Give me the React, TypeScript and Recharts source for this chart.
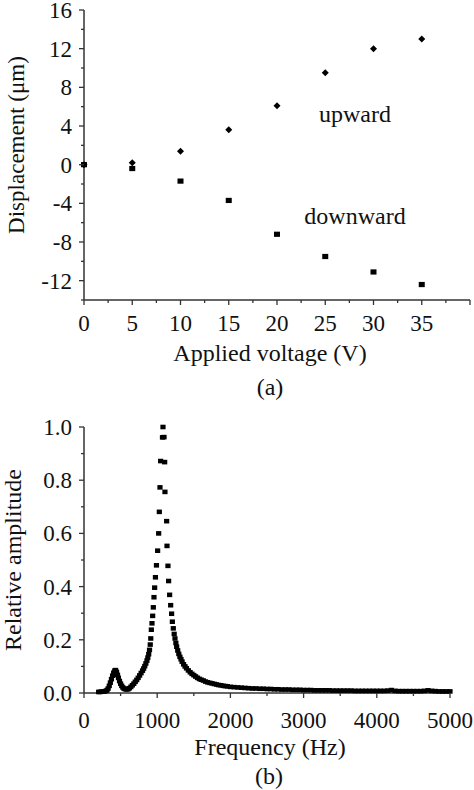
import React from "react";
import { ScatterChart, Scatter, XAxis, YAxis } from "recharts";

const FONT = '"Liberation Serif", "Times New Roman", serif';
const AXIS = "#333";

// (a) displacement vs applied voltage
const voltage = [0, 5, 10, 15, 20, 25, 30, 35];
const upward = [0, 0.2, 1.4, 3.6, 6.1, 9.5, 12, 13];
const downward = [0, -0.4, -1.7, -3.7, -7.2, -9.5, -11.1, -12.4];
const voltageTicks = [0, 2.5, 5, 7.5, 10, 12.5, 15, 17.5, 20, 22.5, 25, 27.5, 30, 32.5, 35, 37.5, 40];
const voltageLabels = [0, 5, 10, 15, 20, 25, 30, 35];
const dispTicks = [-14, -12, -10, -8, -6, -4, -2, 0, 2, 4, 6, 8, 10, 12, 14, 16];
const dispLabels = [-12, -8, -4, 0, 4, 8, 12, 16];

// (b) relative amplitude vs frequency
const frequency = [
  200, 220, 240, 260, 280, 300, 315, 330, 345, 360, 375, 390, 405, 420, 432, 445, 458, 470, 485, 500,
  515, 530, 545, 560, 575, 590, 605, 620, 640, 660, 680, 700, 720, 740, 760, 780, 800, 815, 830, 845,
  860, 872, 884, 895, 905, 912, 920, 929, 938, 947, 956, 965, 976, 990, 1006, 1020, 1029, 1038, 1047, 1072,
  1079, 1093, 1102, 1106, 1129, 1134, 1147, 1156, 1170, 1184, 1197, 1207, 1220, 1232, 1243, 1255, 1266, 1280, 1295, 1310,
  1325, 1340, 1360, 1380, 1400, 1425, 1450, 1475, 1500, 1525, 1550, 1575, 1600, 1630, 1660, 1690, 1720, 1750, 1780, 1810,
  1840, 1870, 1900, 1930, 1960, 2000, 2050, 2100, 2150, 2200, 2250, 2300, 2350, 2400, 2450, 2500, 2550, 2600, 2650, 2700,
  2750, 2800, 2850, 2900, 2950, 3000, 3050, 3100, 3150, 3200, 3250, 3300, 3350, 3400, 3450, 3500, 3550, 3600, 3650, 3700,
  3750, 3800, 3850, 3900, 3950, 4000, 4050, 4100, 4150, 4200, 4250, 4300, 4350, 4400, 4450, 4500, 4550, 4600, 4650, 4700,
  4750, 4800, 4850, 4900, 4950, 5000,
];
const amplitude = [
  0.004, 0.004, 0.005, 0.005, 0.006, 0.008, 0.011, 0.017, 0.027, 0.039, 0.052, 0.065, 0.076, 0.084, 0.086, 0.079, 0.068, 0.057, 0.045, 0.035,
  0.027, 0.021, 0.017, 0.015, 0.014, 0.014, 0.015, 0.018, 0.023, 0.029, 0.035, 0.042, 0.049, 0.057, 0.066, 0.075, 0.084, 0.092, 0.101, 0.111,
  0.122, 0.133, 0.146, 0.162, 0.182, 0.205, 0.238, 0.262, 0.29, 0.322, 0.36, 0.396, 0.435, 0.48, 0.535, 0.6, 0.681, 0.773, 0.872, 0.961,
  1.0, 0.962, 0.868, 0.756, 0.646, 0.553, 0.478, 0.421, 0.369, 0.33, 0.298, 0.268, 0.243, 0.222, 0.205, 0.188, 0.174, 0.16, 0.147, 0.136,
  0.127, 0.118, 0.108, 0.1, 0.093, 0.085, 0.078, 0.072, 0.067, 0.062, 0.057, 0.053, 0.05, 0.047, 0.043, 0.04, 0.038, 0.036, 0.034, 0.032,
  0.03, 0.029, 0.027, 0.026, 0.025, 0.023, 0.022, 0.021, 0.02, 0.019, 0.018, 0.017, 0.017, 0.016, 0.016, 0.015, 0.015, 0.014, 0.014, 0.013,
  0.013, 0.013, 0.012, 0.012, 0.012, 0.011, 0.011, 0.011, 0.01, 0.01, 0.01, 0.01, 0.01, 0.009, 0.009, 0.009, 0.009, 0.009, 0.009, 0.008,
  0.008, 0.008, 0.008, 0.008, 0.008, 0.008, 0.008, 0.008, 0.009, 0.011, 0.008, 0.007, 0.007, 0.007, 0.007, 0.007, 0.007, 0.007, 0.008, 0.01,
  0.008, 0.007, 0.006, 0.006, 0.006, 0.006,
];
const freqTicks = [0, 500, 1000, 1500, 2000, 2500, 3000, 3500, 4000, 4500, 5000];
const freqLabels = [0, 1000, 2000, 3000, 4000, 5000];
const ampTicks = [0, 0.1, 0.2, 0.3, 0.4, 0.5, 0.6, 0.7, 0.8, 0.9, 1.0];
const ampLabels = [0, 0.2, 0.4, 0.6, 0.8, 1.0];

const upData = voltage.map((v, i) => ({ x: v, y: upward[i] }));
const downData = voltage.map((v, i) => ({ x: v, y: downward[i] }));
const ampData = frequency.map((f, i) => ({ x: f, y: amplitude[i] }));

const near = (list: number[], v: number) => list.some((t) => Math.abs(t - v) < 1e-6);

function bottomTick(majors: number[], labels: number[], dy: number, fmt: (v: number) => string) {
  return (props: any) => {
    const { x, y, payload } = props;
    const v = payload.value;
    const major = near(majors, v);
    return (
      <g>
        <line x1={x} y1={y} x2={x} y2={y + (major ? 5 : 3)} stroke={AXIS} strokeWidth={1.3} />
        {near(labels, v) && (
          <text x={x} y={y + dy} textAnchor="middle" fontFamily={FONT} fontSize={23} fill="#111">
            {fmt(v)}
          </text>
        )}
      </g>
    );
  };
}

function leftTick(labels: number[], fmt: (v: number) => string) {
  return (props: any) => {
    const { x, y, payload } = props;
    const v = payload.value;
    const major = near(labels, v);
    return (
      <g>
        <line x1={x - (major ? 5 : 3)} y1={y} x2={x} y2={y} stroke={AXIS} strokeWidth={1.3} />
        {major && (
          <text x={x - 12} y={y + 8} textAnchor="end" fontFamily={FONT} fontSize={23} fill="#111">
            {fmt(v)}
          </text>
        )}
      </g>
    );
  };
}

const Diamond = (props: any) => {
  const { cx, cy } = props;
  return <polygon points={`${cx},${cy - 3.5} ${cx + 3.5},${cy} ${cx},${cy + 3.5} ${cx - 3.5},${cy}`} fill="#000" />;
};
const Square = (props: any) => {
  const { cx, cy } = props;
  return <rect x={cx - 3} y={cy - 2.6} width={6} height={5.2} fill="#000" />;
};
const SmallSquare = (props: any) => {
  const { cx, cy } = props;
  return <rect x={cx - 2.6} y={cy - 2.3} width={5.2} height={4.6} fill="#000" />;
};

const axisLine = { stroke: AXIS, strokeWidth: 1.5 };

export default function App() {
  return (
    <div style={{ position: "absolute", left: 0, top: 0, width: 474, height: 790, background: "#fff" }}>
      <div style={{ position: "absolute", left: 0, top: 0 }}>
        <ScatterChart width={474} height={400} margin={{ top: 10, right: 4, bottom: 0, left: 0 }}>
          <XAxis
            type="number"
            dataKey="x"
            domain={[0, 40]}
            ticks={voltageTicks}
            interval={0}
            height={100}
            tickSize={0}
            tickMargin={0}
            tickLine={false}
            axisLine={axisLine}
            tick={bottomTick(voltageTicks.filter((t) => t % 5 === 0), voltageLabels, 31, (v) => String(v))}
          />
          <YAxis
            type="number"
            dataKey="y"
            domain={[-14, 16]}
            ticks={dispTicks}
            interval={0}
            width={84}
            tickSize={0}
            tickMargin={0}
            tickLine={false}
            axisLine={axisLine}
            tick={leftTick(dispLabels, (v) => String(v))}
          />
          <Scatter data={upData} shape={Diamond} isAnimationActive={false} />
          <Scatter data={downData} shape={Square} isAnimationActive={false} />
        </ScatterChart>
      </div>
      <div style={{ position: "absolute", left: 0, top: 400 }}>
        <ScatterChart width={474} height={390} margin={{ top: 27, right: 24, bottom: 0, left: 0 }}>
          <XAxis
            type="number"
            dataKey="x"
            domain={[0, 5000]}
            ticks={freqTicks}
            interval={0}
            height={97}
            tickSize={0}
            tickMargin={0}
            tickLine={false}
            axisLine={axisLine}
            tick={bottomTick(freqLabels, freqLabels, 35, (v) => String(v))}
          />
          <YAxis
            type="number"
            dataKey="y"
            domain={[0, 1]}
            ticks={ampTicks}
            interval={0}
            width={84}
            tickSize={0}
            tickMargin={0}
            tickLine={false}
            axisLine={axisLine}
            tick={leftTick(ampLabels, (v) => v.toFixed(1))}
          />
          <Scatter data={ampData} shape={SmallSquare} isAnimationActive={false} />
        </ScatterChart>
      </div>
      <svg
        width={474}
        height={790}
        style={{ position: "absolute", left: 0, top: 0, pointerEvents: "none" }}
        fontFamily={FONT}
        fill="#111"
      >
        <text x={355} y={122} textAnchor="middle" fontSize={24}>upward</text>
        <text x={355} y={224} textAnchor="middle" fontSize={24}>downward</text>
        <text x={270} y={361} textAnchor="middle" fontSize={24}>Applied voltage (V)</text>
        <text x={270} y={395} textAnchor="middle" fontSize={24}>(a)</text>
        <text transform="translate(24,145) rotate(-90)" textAnchor="middle" fontSize={23}>Displacement (μm)</text>
        <text x={270} y={755} textAnchor="middle" fontSize={24}>Frequency (Hz)</text>
        <text x={269} y={784} textAnchor="middle" fontSize={24}>(b)</text>
        <text transform="translate(21,560) rotate(-90)" textAnchor="middle" fontSize={24}>Relative amplitude</text>
      </svg>
    </div>
  );
}
